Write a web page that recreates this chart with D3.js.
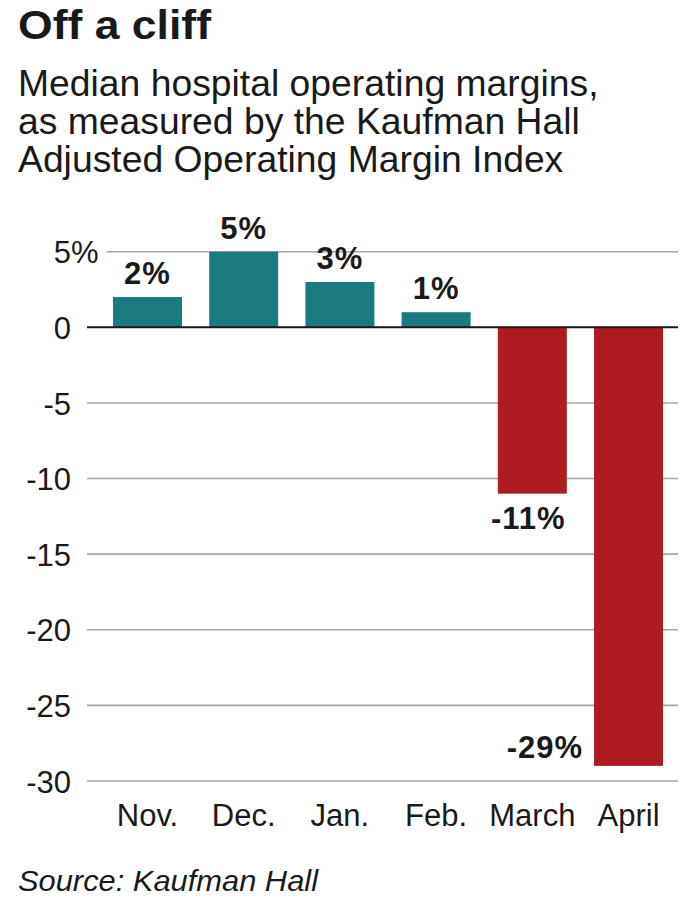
<!DOCTYPE html>
<html><head><meta charset="utf-8">
<script src="https://cdn.jsdelivr.net/npm/d3@7"></script>
<style>
body{margin:0;background:#fff;}
svg{display:block;font-family:"Liberation Sans",Arial,Helvetica,sans-serif;}
</style>
</head><body><svg id="chart" width="687" height="904"></svg>
<script>
const months = ["Nov.", "Dec.", "Jan.", "Feb.", "March", "April"];
const margins = [2, 5, 3, 1, -11, -29];
const valueLabels = ["2%", "5%", "3%", "1%", "-11%", "-29%"];
const yTicks = [5, 0, -5, -10, -15, -20, -25, -30];
const title = "Off a cliff";
const subtitleLines = ["Median hospital operating margins,", "as measured by the Kaufman Hall", "Adjusted Operating Margin Index"];
const source = "Source: Kaufman Hall";

const teal = "#1b7a7f", red = "#b01b22", ink = "#1a1a1a";
const svg = d3.select("#chart");

const x = d3.scaleBand().domain(months).range([113, 663]).paddingInner(0.283).paddingOuter(0);
const y = d3.scaleLinear().domain([5, -30]).range([251.7, 781]);
const gridEnd = 678;

// title + subtitle
svg.append("text").attr("x", 18).attr("y", 39)
  .attr("font-size", 40).attr("font-weight", "bold").attr("fill", ink)
  .attr("textLength", 193).attr("lengthAdjust", "spacingAndGlyphs")
  .text(title);
svg.append("g").selectAll("text").data(subtitleLines).join("text")
  .attr("x", 18).attr("y", (d, i) => 96 + i * 38)
  .attr("font-size", 37.3).attr("fill", ink).text(d => d);

// y axis labels
const yAxis = d3.axisLeft(y).tickValues(yTicks).tickSize(0).tickPadding(0)
  .tickFormat(d => String(d));
const yg = svg.append("g").attr("transform", "translate(71,0)").call(yAxis);
yg.select(".domain").remove();
yg.selectAll("text").attr("font-size", 31).attr("fill", ink)
  .attr("font-family", '"Liberation Sans",Arial,sans-serif').attr("dy", "0.36em");
const topTick = yTicks[0];
const pct = svg.append("text").attr("x", 71).attr("y", y(topTick)).attr("dy", "0.36em")
  .attr("font-size", 31).attr("fill", ink).text("%");
const pctEnd = pct.node().getBBox().x + pct.node().getBBox().width;

// gridlines
svg.append("g").selectAll("line").data(yTicks.filter(d => d !== 0)).join("line")
  .attr("x1", d => d === topTick ? pctEnd + 8 : 87).attr("x2", gridEnd)
  .attr("y1", d => y(d)).attr("y2", d => y(d))
  .attr("stroke", "#a6a6a6").attr("stroke-width", 1.6);

// bars
svg.append("g").selectAll("rect").data(margins).join("rect")
  .attr("x", (d, i) => x(months[i])).attr("width", x.bandwidth())
  .attr("y", d => y(Math.max(0, d))).attr("height", d => Math.abs(y(d) - y(0)))
  .attr("fill", d => d >= 0 ? teal : red);

// zero line
svg.append("line").attr("x1", 87).attr("x2", gridEnd).attr("y1", y(0)).attr("y2", y(0))
  .attr("stroke", "#1a1a1a").attr("stroke-width", 2);

// value labels
const bottom = y(yTicks[yTicks.length - 1]);
svg.append("g").selectAll("text").data(margins).join("text")
  .attr("font-size", 31).attr("font-weight", "bold").attr("fill", ink)
  .attr("letter-spacing", 1)
  .each(function (d, i) {
    const t = d3.select(this);
    const cx = x(months[i]) + x.bandwidth() / 2;
    if (d >= 0) {
      t.attr("x", cx).attr("y", y(d) - 13).attr("text-anchor", "middle");
    } else if (y(d) + 34 <= bottom) {
      t.attr("x", cx - 4).attr("y", y(d) + 35).attr("text-anchor", "middle");
    } else {
      t.attr("x", x(months[i]) - 11).attr("y", y(d) - 8).attr("text-anchor", "end");
    }
    t.text(valueLabels[i]);
  });

// x axis labels
const xAxis = d3.axisBottom(x).tickSize(0).tickPadding(0);
const xg = svg.append("g").attr("transform", "translate(0,826)").call(xAxis);
xg.select(".domain").remove();
xg.selectAll("text").attr("font-size", 31).attr("fill", ink)
  .attr("font-family", '"Liberation Sans",Arial,sans-serif').attr("dy", 0);

// source
svg.append("text").attr("x", 18).attr("y", 891)
  .attr("font-size", 29).attr("font-style", "italic").attr("fill", ink)
  .attr("textLength", 300).attr("lengthAdjust", "spacingAndGlyphs").text(source);
</script>
</body></html>
